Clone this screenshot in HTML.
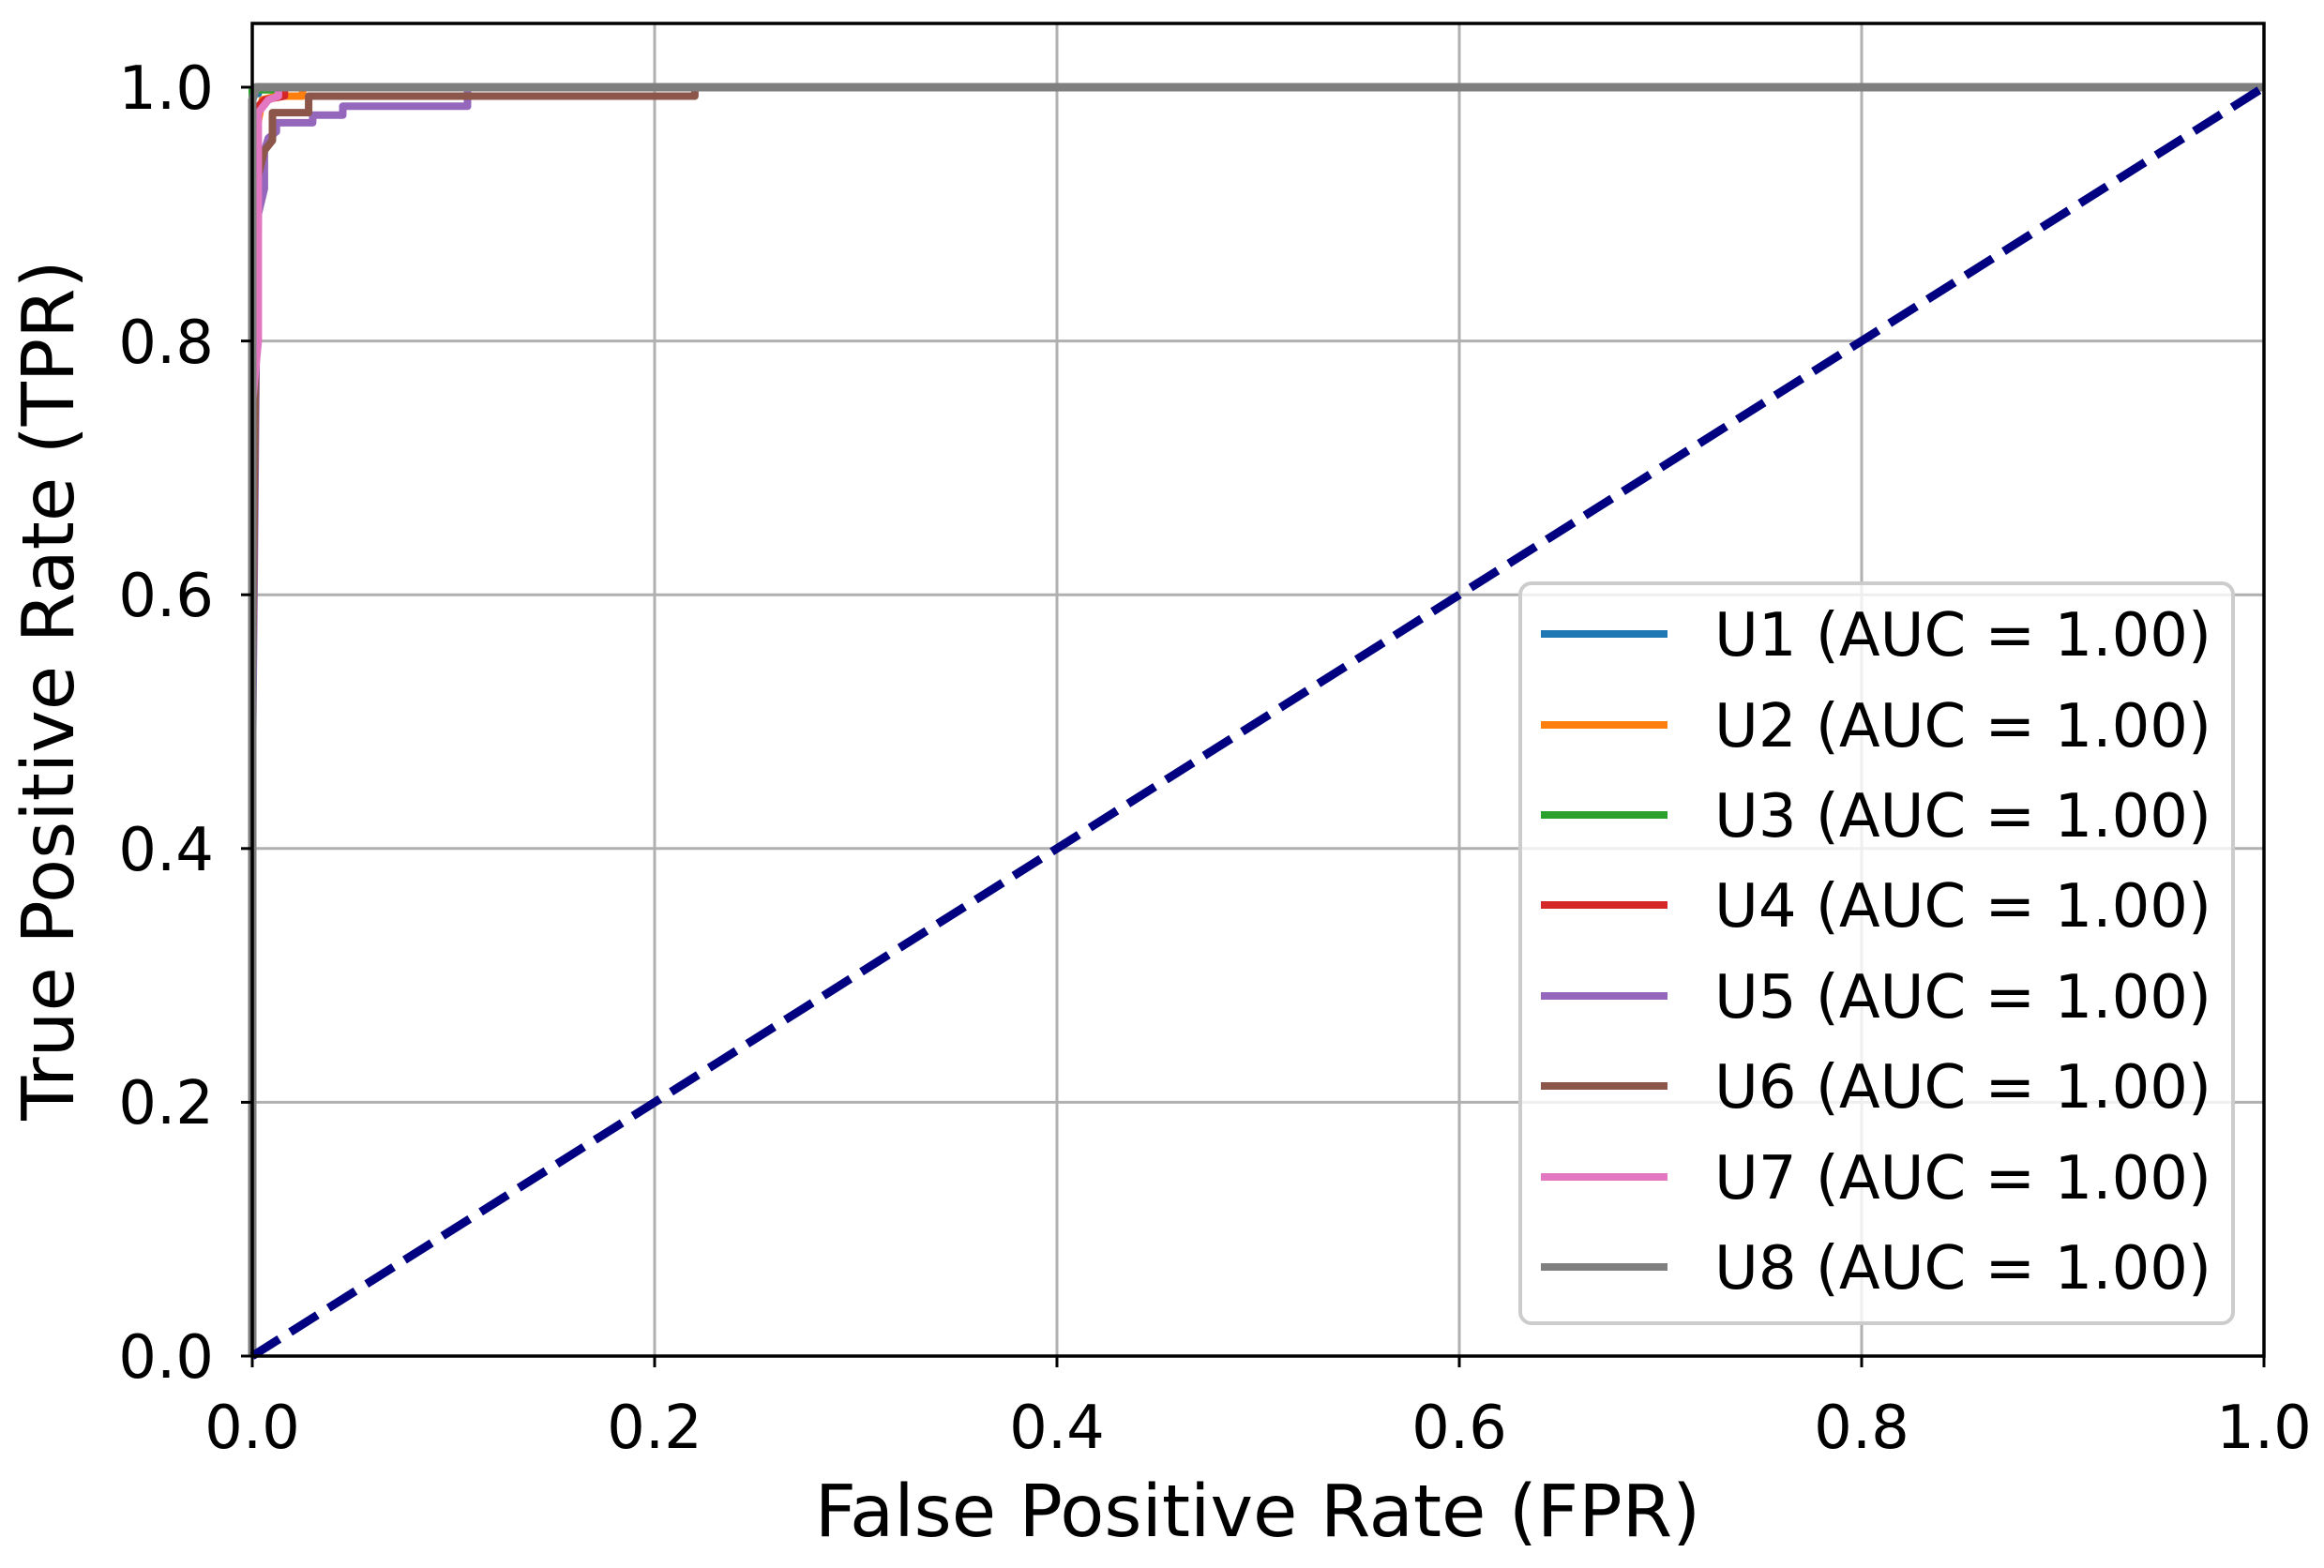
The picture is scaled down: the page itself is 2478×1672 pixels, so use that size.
<!DOCTYPE html>
<html><head><meta charset="utf-8"><style>
html,body{margin:0;padding:0;background:#fff}
svg{display:block}
text{font-family:"DejaVu Sans","Liberation Sans",sans-serif;fill:#000}
</style></head><body>
<svg width="2478" height="1672" viewBox="0 0 2478 1672" xmlns="http://www.w3.org/2000/svg">
<rect width="2478" height="1672" fill="#fff"/>
<g stroke="#b0b0b0" stroke-width="3">
<line x1="269" y1="25" x2="269" y2="1446"/>
<line x1="698" y1="25" x2="698" y2="1446"/>
<line x1="1127" y1="25" x2="1127" y2="1446"/>
<line x1="1556" y1="25" x2="1556" y2="1446"/>
<line x1="1985" y1="25" x2="1985" y2="1446"/>
<line x1="269" y1="1446" x2="2414" y2="1446"/>
<line x1="269" y1="1175.4" x2="2414" y2="1175.4"/>
<line x1="269" y1="904.8" x2="2414" y2="904.8"/>
<line x1="269" y1="634.2" x2="2414" y2="634.2"/>
<line x1="269" y1="363.6" x2="2414" y2="363.6"/>
<line x1="269" y1="93" x2="2414" y2="93"/>
</g>
<g fill="none" stroke-width="8" stroke-linejoin="round">
<polyline stroke="#1f77b4" points="269,1446 269,99.8 275.4,99.8 275.4,93 2414,93"/>
<polyline stroke="#ff7f0e" points="269,1446 269,228.3 273.3,140.4 279.7,106.5 294.7,102.5 322.6,102.5 322.6,93 2414,93"/>
<polyline stroke="#2ca02c" points="269,1446 269,95.7 290.5,95.7 290.5,93 2414,93"/>
<polyline stroke="#d62728" points="269,1446 269,120.1 281.9,106.5 303.3,102.5 303.3,93 2414,93"/>
<polyline stroke="#9467bd" points="269,1446 269,837.2 273.3,363.6 275.4,228.3 281.9,201.2 281.9,160.6 286.2,147.1 294.7,140.4 294.7,130.9 333.4,130.9 333.4,122.8 365.5,122.8 365.5,113.3 498.5,113.3 498.5,93 2414,93"/>
<polyline stroke="#8c564b" points="269,1446 269,769.5 273.3,296 275.4,187.7 281.9,160.6 290.5,149.8 290.5,120.1 329.1,120.1 329.1,102.5 740.9,102.5 740.9,93 2414,93"/>
<polyline stroke="#e377c2" points="269,1446 269,431.3 275.4,363.6 275.4,120.1 286.2,106.5 296.9,102.5 296.9,93 2414,93"/>
<polyline stroke="#7f7f7f" stroke-width="9" points="269,1446 269,106.5 273.3,93 2414,93"/>
</g>
<line x1="269" y1="1446" x2="2414" y2="93" stroke="#000080" stroke-width="9" stroke-dasharray="34,14"/>
<rect x="269" y="25" width="2145" height="1421" fill="none" stroke="#000" stroke-width="3.5"/>
<g stroke="#000" stroke-width="3">
<line x1="269" y1="1446" x2="269" y2="1458"/>
<line x1="698" y1="1446" x2="698" y2="1458"/>
<line x1="1127" y1="1446" x2="1127" y2="1458"/>
<line x1="1556" y1="1446" x2="1556" y2="1458"/>
<line x1="1985" y1="1446" x2="1985" y2="1458"/>
<line x1="2414" y1="1446" x2="2414" y2="1458"/>
<line x1="257" y1="1446" x2="269" y2="1446"/>
<line x1="257" y1="1175.4" x2="269" y2="1175.4"/>
<line x1="257" y1="904.8" x2="269" y2="904.8"/>
<line x1="257" y1="634.2" x2="269" y2="634.2"/>
<line x1="257" y1="363.6" x2="269" y2="363.6"/>
<line x1="257" y1="93" x2="269" y2="93"/>
</g>
<g font-size="64" text-anchor="middle">
<text x="269" y="1544">0.0</text>
<text x="698" y="1544">0.2</text>
<text x="1127" y="1544">0.4</text>
<text x="1556" y="1544">0.6</text>
<text x="1985" y="1544">0.8</text>
<text x="2414" y="1544">1.0</text>
</g>
<g font-size="64" text-anchor="end">
<text x="228" y="1469">0.0</text>
<text x="228" y="1198">0.2</text>
<text x="228" y="928">0.4</text>
<text x="228" y="657">0.6</text>
<text x="228" y="387">0.8</text>
<text x="228" y="116">1.0</text>
</g>
<text x="1341" y="1638" font-size="77" text-anchor="middle">False Positive Rate (FPR)</text>
<text transform="translate(78,736) rotate(-90)" font-size="77" text-anchor="middle">True Positive Rate (TPR)</text>
<rect x="1621" y="622" width="760" height="789" rx="12" fill="#fff" fill-opacity="0.8" stroke="#cccccc" stroke-width="4"/>
<g stroke-width="8">
<line x1="1643" x2="1778" y1="676" y2="676" stroke="#1f77b4"/>
<line x1="1643" x2="1778" y1="773" y2="773" stroke="#ff7f0e"/>
<line x1="1643" x2="1778" y1="869" y2="869" stroke="#2ca02c"/>
<line x1="1643" x2="1778" y1="965" y2="965" stroke="#d62728"/>
<line x1="1643" x2="1778" y1="1062" y2="1062" stroke="#9467bd"/>
<line x1="1643" x2="1778" y1="1158" y2="1158" stroke="#8c564b"/>
<line x1="1643" x2="1778" y1="1255" y2="1255" stroke="#e377c2"/>
<line x1="1643" x2="1778" y1="1351" y2="1351" stroke="#7f7f7f"/>
</g>
<g font-size="64">
<text x="1828" y="699">U1 (AUC = 1.00)</text>
<text x="1828" y="796">U2 (AUC = 1.00)</text>
<text x="1828" y="892">U3 (AUC = 1.00)</text>
<text x="1828" y="988">U4 (AUC = 1.00)</text>
<text x="1828" y="1085">U5 (AUC = 1.00)</text>
<text x="1828" y="1181">U6 (AUC = 1.00)</text>
<text x="1828" y="1278">U7 (AUC = 1.00)</text>
<text x="1828" y="1374">U8 (AUC = 1.00)</text>
</g>
</svg>
</body></html>
